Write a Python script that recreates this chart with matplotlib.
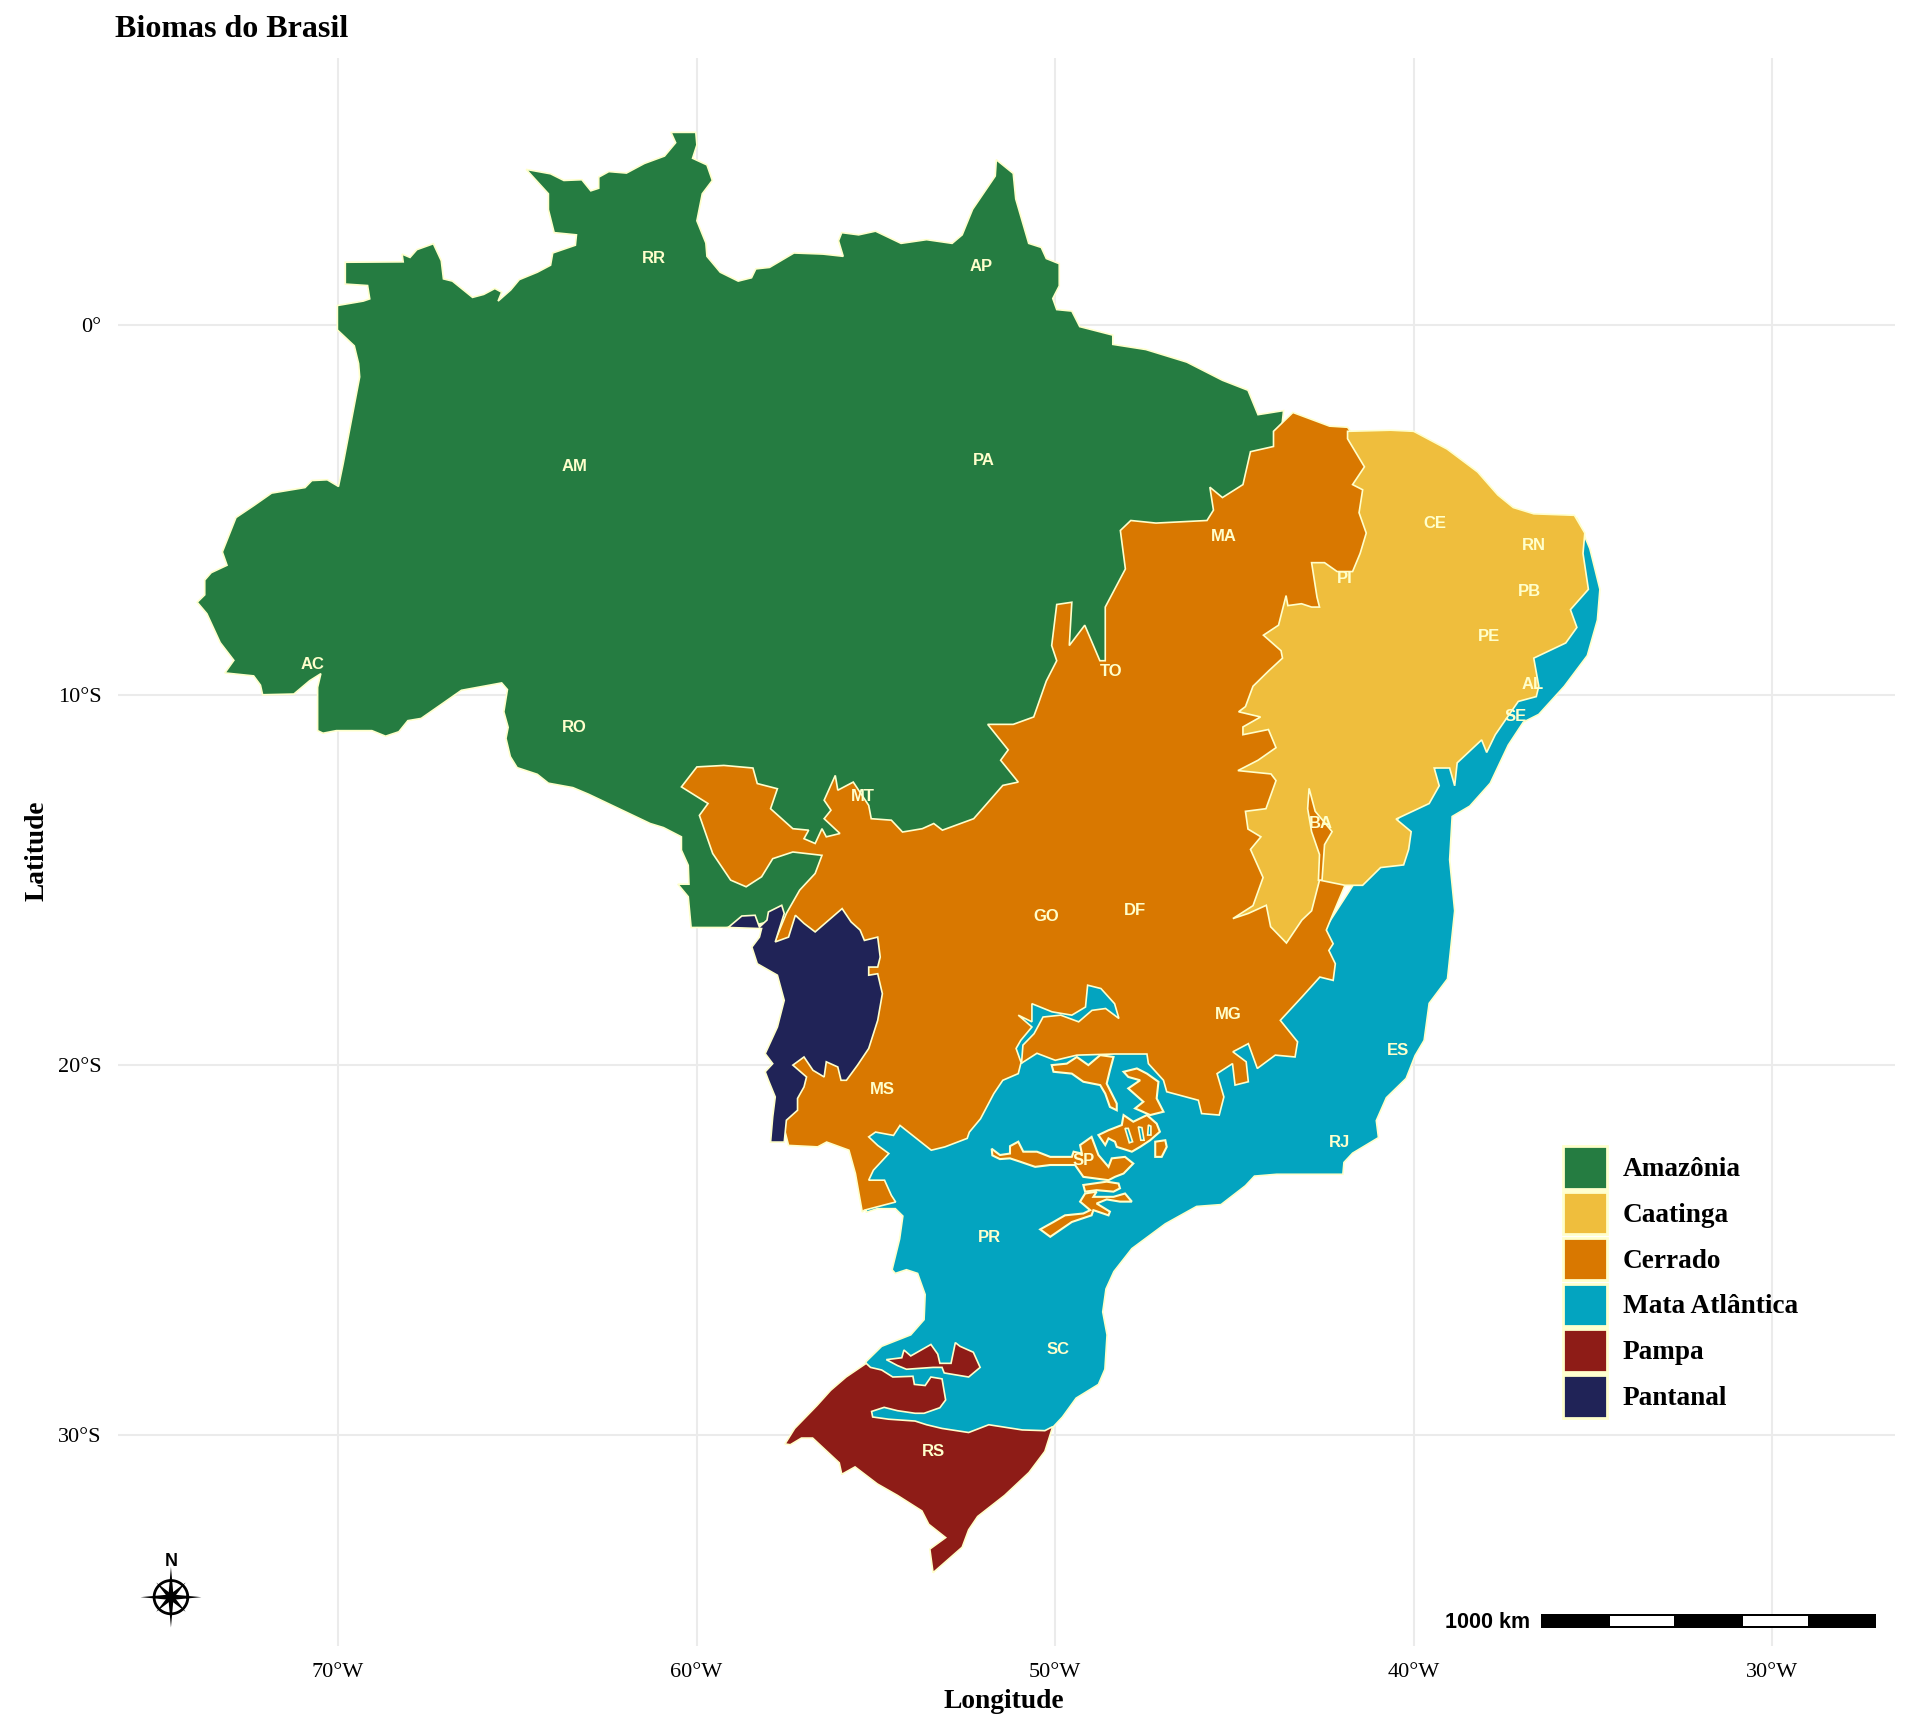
import numpy as np
import matplotlib
matplotlib.use("Agg")
import matplotlib.pyplot as plt
from matplotlib.patches import Patch, Rectangle

SERIF = "Liberation Serif"
SANS = "Liberation Sans"
EDGE = "#FFFFCC"

# limites do mapa
LON_MIN, LON_MAX = -76.14, -26.57
LAT_MIN, LAT_MAX = -35.71, 7.21
# ajuste fino da leitura das longitudes
LON_FIX = 1.0028

lon_ticks = [-70, -60, -50, -40, -30]
lon_labels = ["70°W", "60°W", "50°W", "40°W", "30°W"]
lat_ticks = [0, -10, -20, -30]
lat_labels = ["0°", "10°S", "20°S", "30°S"]

biome_names = ["Amazônia", "Caatinga", "Cerrado", "Mata Atlântica", "Pampa", "Pantanal"]
biome_colors = ["#257C41", "#EFBE3D", "#D97800", "#03A4C0", "#8E1C17", "#202357"]

# contornos (lon, lat)
amazonia = [
    (-69.80, 1.69), (-68.19, 1.70), (-68.22, 1.91), (-68.00, 1.82), (-67.81, 2.03), (-67.35, 2.19),
    (-67.13, 1.73), (-67.07, 1.24), (-66.82, 1.18), (-66.26, 0.74), (-65.95, 0.82), (-65.64, 0.98),
    (-65.45, 0.88), (-65.55, 0.64), (-65.20, 0.94), (-64.96, 1.22), (-64.46, 1.42), (-64.09, 1.61),
    (-64.03, 1.94), (-63.40, 2.15), (-63.37, 2.43), (-63.99, 2.49), (-64.15, 3.11), (-64.15, 3.54),
    (-64.77, 4.20), (-64.09, 4.08), (-63.72, 3.90), (-63.22, 3.92), (-62.97, 3.62), (-62.75, 3.69),
    (-62.75, 3.99), (-62.47, 4.14), (-61.98, 4.10), (-61.48, 4.36), (-60.92, 4.56), (-60.61, 4.92),
    (-60.74, 5.20), (-60.05, 5.20), (-60.02, 4.86), (-60.14, 4.50), (-59.74, 4.32), (-59.59, 3.90),
    (-59.87, 3.54), (-60.02, 2.81), (-59.77, 2.21), (-59.74, 1.85), (-59.37, 1.42), (-58.87, 1.18),
    (-58.50, 1.27), (-58.38, 1.51), (-58.00, 1.55), (-57.32, 1.94), (-56.51, 1.91), (-55.95, 1.85),
    (-56.08, 2.27), (-55.99, 2.49), (-55.52, 2.43), (-55.05, 2.53), (-54.34, 2.20), (-53.63, 2.30),
    (-52.92, 2.20), (-52.64, 2.43), (-52.35, 3.12), (-51.72, 4.02), (-51.69, 4.46), (-51.22, 4.09),
    (-51.15, 3.40), (-50.79, 2.20), (-50.44, 2.09), (-50.30, 1.79), (-49.94, 1.65), (-49.94, 1.05),
    (-50.12, 0.71), (-50.01, 0.41), (-49.59, 0.37), (-49.37, -0.05), (-48.45, -0.28), (-48.45, -0.53),
    (-47.53, -0.67), (-46.39, -1.01), (-45.40, -1.50), (-44.69, -1.77), (-44.41, -2.43), (-43.70, -2.32),
    (-44.00, -5.00), (-46.00, -7.00), (-50.00, -11.50), (-51.00, -13.00), (-53.00, -14.20), (-55.00, -14.50),
    (-56.60, -15.20), (-57.30, -16.00), (-57.70, -16.40), (-58.09, -16.15), (-58.30, -16.20), (-59.21, -16.29),
    (-60.18, -16.29), (-60.26, -15.46), (-60.55, -15.12), (-60.24, -15.12), (-60.26, -14.61), (-60.45, -14.20),
    (-60.45, -13.84), (-60.95, -13.59), (-61.32, -13.48), (-63.03, -12.69), (-63.47, -12.51), (-64.15, -12.39),
    (-64.46, -12.15), (-65.02, -11.97), (-65.21, -11.67), (-65.33, -11.18), (-65.27, -10.88), (-65.39, -10.46),
    (-65.29, -9.86), (-65.45, -9.68), (-66.57, -9.88), (-67.07, -10.22), (-67.69, -10.64), (-68.06, -10.70),
    (-68.31, -11.00), (-68.68, -11.12), (-69.06, -10.97), (-70.05, -10.97), (-70.42, -11.04), (-70.57, -10.97),
    (-70.57, -9.80), (-70.48, -9.43), (-70.79, -9.62), (-71.23, -9.98), (-72.10, -10.00), (-72.16, -9.74),
    (-72.35, -9.49), (-73.15, -9.41), (-72.90, -9.07), (-73.28, -8.59), (-73.65, -7.81), (-73.92, -7.50),
    (-73.71, -7.30), (-73.71, -6.90), (-73.53, -6.70), (-73.09, -6.50), (-73.22, -6.14), (-72.84, -5.21),
    (-72.35, -4.89), (-71.85, -4.55), (-70.92, -4.40), (-70.73, -4.21), (-70.30, -4.19), (-69.99, -4.37),
    (-69.86, -3.76), (-69.40, -1.41), (-69.43, -1.05), (-69.55, -0.57), (-70.02, -0.14), (-70.02, 0.52),
    (-69.30, 0.64), (-69.12, 0.70), (-69.18, 1.06), (-69.80, 1.10),
]

mata_atlantica = [
    (-35.54, -5.22), (-35.18, -6.05), (-34.90, -7.15), (-34.97, -7.98), (-35.25, -8.94), (-35.89, -9.77),
    (-36.60, -10.53), (-37.03, -10.74), (-37.45, -11.36), (-37.95, -12.39), (-38.52, -13.01), (-39.01, -13.29),
    (-39.08, -14.46), (-38.94, -15.84), (-39.14, -17.68), (-39.65, -18.34), (-39.79, -19.34), (-40.04, -19.75),
    (-40.29, -20.37), (-40.84, -20.89), (-41.12, -21.51), (-41.06, -21.97), (-41.78, -22.39), (-42.02, -22.64),
    (-42.05, -22.96), (-43.02, -22.96), (-43.89, -22.96), (-44.51, -23.01), (-44.76, -23.27), (-45.44, -23.78),
    (-46.12, -23.83), (-46.99, -24.30), (-47.92, -24.97), (-48.42, -25.59), (-48.64, -26.06), (-48.73, -26.68),
    (-48.61, -27.30), (-48.67, -28.23), (-48.85, -28.64), (-49.47, -29.01), (-49.85, -29.52), (-50.10, -29.78),
    (-50.34, -30.20), (-55.50, -30.20), (-55.40, -28.30), (-55.31, -28.02), (-54.88, -27.61), (-54.07, -27.30),
    (-53.70, -26.89), (-53.67, -26.21), (-53.88, -25.64), (-54.19, -25.54), (-54.50, -25.64), (-54.59, -25.54),
    (-54.38, -24.71), (-54.29, -24.09), (-54.50, -23.89), (-55.00, -23.89), (-55.31, -23.99), (-55.30, -23.50),
    (-55.40, -22.50), (-55.40, -21.90), (-54.50, -21.30), (-50.00, -19.00), (-46.00, -19.00), (-43.00, -17.00),
    (-41.00, -14.00), (-38.00, -10.00), (-36.00, -6.00),
]

cerrado = [
    (-43.44, -2.37), (-42.42, -2.74), (-41.92, -2.77), (-41.00, -4.00), (-41.00, -12.00), (-42.50, -14.80),
    (-41.99, -15.15), (-42.32, -15.91), (-42.51, -16.36), (-42.32, -16.73), (-42.44, -16.91), (-42.26, -17.27),
    (-42.32, -17.72), (-42.69, -17.63), (-43.19, -18.17), (-43.79, -18.80), (-43.31, -19.38), (-43.38, -19.79),
    (-43.93, -19.74), (-44.43, -20.10), (-44.68, -19.43), (-45.11, -19.65), (-44.74, -19.92), (-44.68, -20.46),
    (-45.05, -20.55), (-45.12, -19.97), (-45.55, -20.24), (-45.36, -20.87), (-45.49, -21.36), (-45.98, -21.32),
    (-46.07, -20.96), (-46.95, -20.73), (-47.04, -20.42), (-47.46, -19.97), (-47.50, -19.71), (-48.39, -19.71),
    (-49.45, -19.74), (-50.05, -19.88), (-50.56, -19.69), (-51.01, -19.97), (-51.08, -20.24), (-51.51, -20.42),
    (-51.76, -20.78), (-52.13, -21.46), (-52.44, -21.82), (-52.50, -21.99), (-53.12, -22.22), (-53.50, -22.31),
    (-54.37, -21.64), (-54.55, -21.91), (-55.05, -21.82), (-55.24, -21.95), (-54.99, -22.18), (-54.68, -22.40),
    (-55.11, -22.85), (-55.24, -23.12), (-54.80, -23.12), (-54.61, -23.53), (-54.49, -23.71), (-55.36, -23.93),
    (-55.42, -23.98), (-55.61, -22.94), (-55.79, -22.31), (-56.41, -22.09), (-56.66, -22.22), (-57.47, -22.18),
    (-57.70, -21.30), (-57.50, -19.00), (-57.84, -16.64), (-57.53, -15.91), (-57.16, -15.28), (-56.73, -14.83),
    (-56.54, -14.34), (-57.35, -14.25), (-57.91, -14.43), (-58.22, -14.92), (-58.65, -15.19), (-59.08, -15.01),
    (-59.58, -14.29), (-59.95, -13.26), (-59.71, -12.94), (-60.45, -12.49), (-60.02, -11.95), (-59.27, -11.91),
    (-58.46, -11.98), (-58.34, -12.40), (-57.78, -12.54), (-57.97, -13.08), (-57.35, -13.62), (-56.91, -13.66),
    (-57.04, -13.89), (-56.73, -14.02), (-56.54, -13.62), (-56.42, -13.84), (-56.04, -13.75), (-56.48, -13.35),
    (-56.29, -13.12), (-56.48, -12.85), (-56.17, -12.18), (-56.10, -12.58), (-55.67, -12.36), (-55.24, -12.99),
    (-55.17, -13.35), (-54.61, -13.39), (-54.30, -13.71), (-53.75, -13.62), (-53.43, -13.48), (-53.19, -13.66),
    (-52.32, -13.35), (-51.95, -12.94), (-51.51, -12.45), (-51.08, -12.36), (-51.57, -11.77), (-51.36, -11.49),
    (-51.93, -10.80), (-51.22, -10.80), (-50.65, -10.60), (-50.30, -9.63), (-50.01, -9.08), (-50.15, -8.67),
    (-50.01, -7.56), (-49.59, -7.50), (-49.66, -8.67), (-49.23, -8.12), (-48.81, -9.08), (-48.66, -9.08),
    (-48.66, -7.63), (-48.10, -6.60), (-48.24, -5.56), (-47.95, -5.29), (-47.25, -5.36), (-45.83, -5.29),
    (-45.65, -5.01), (-45.75, -4.39), (-45.40, -4.67), (-44.83, -4.32), (-44.62, -3.43), (-43.98, -3.29),
    (-43.98, -2.88),
]

caatinga = [
    (-41.92, -2.88), (-40.72, -2.85), (-40.08, -2.88), (-39.15, -3.36), (-38.30, -3.98), (-37.74, -4.60),
    (-37.31, -4.94), (-36.74, -5.11), (-35.61, -5.15), (-35.32, -5.63), (-35.37, -6.18), (-35.22, -7.15),
    (-35.72, -7.70), (-35.54, -8.18), (-35.85, -8.60), (-36.74, -9.01), (-36.60, -9.77), (-36.67, -10.05),
    (-37.17, -10.18), (-37.52, -10.67), (-37.81, -11.08), (-38.05, -11.56), (-38.19, -11.22), (-38.87, -11.84),
    (-38.94, -12.46), (-39.08, -11.98), (-39.51, -11.98), (-39.37, -12.46), (-39.65, -12.94), (-40.57, -13.36),
    (-40.15, -13.70), (-40.22, -14.18), (-40.36, -14.60), (-41.00, -14.67), (-41.50, -15.15), (-41.99, -15.15),
    (-42.70, -15.01), (-42.92, -15.84), (-43.19, -16.09), (-43.62, -16.71), (-44.06, -16.27), (-44.18, -15.69),
    (-44.68, -15.91), (-45.11, -16.05), (-44.55, -15.70), (-44.27, -14.94), (-44.62, -14.18), (-44.33, -13.84),
    (-44.69, -13.63), (-44.76, -13.15), (-44.19, -13.08), (-43.91, -12.32), (-44.05, -12.14), (-44.97, -12.05),
    (-44.41, -11.77), (-43.91, -11.43), (-44.12, -10.94), (-44.83, -11.08), (-44.83, -10.87), (-44.34, -10.60),
    (-44.95, -10.46), (-44.76, -10.32), (-44.55, -9.77), (-44.12, -9.36), (-43.73, -9.01), (-43.77, -8.81),
    (-44.26, -8.39), (-43.84, -8.12), (-43.63, -7.32), (-43.58, -7.59), (-43.20, -7.54), (-42.92, -7.63),
    (-42.70, -7.63), (-42.77, -7.36), (-42.92, -6.43), (-42.56, -6.43), (-42.21, -6.67), (-41.78, -6.67),
    (-41.57, -6.18), (-41.40, -5.63), (-41.60, -5.08), (-41.50, -4.46), (-41.78, -4.32), (-41.45, -3.84),
    (-41.92, -3.08),
]

pampa = [
    (-57.57, -30.25), (-57.30, -29.83), (-56.68, -29.21), (-56.30, -28.80), (-55.87, -28.44), (-55.31, -28.07),
    (-55.19, -28.18), (-54.88, -28.25), (-54.57, -28.44), (-54.01, -28.42), (-53.97, -28.64), (-53.67, -28.67),
    (-53.51, -28.44), (-53.20, -28.49), (-53.10, -29.06), (-53.26, -29.27), (-53.70, -29.42), (-53.95, -29.42),
    (-54.44, -29.35), (-54.81, -29.26), (-55.16, -29.37), (-55.13, -29.52), (-54.69, -29.58), (-53.95, -29.63),
    (-53.63, -29.73), (-53.20, -29.83), (-52.46, -29.94), (-51.90, -29.73), (-50.97, -29.87), (-50.34, -29.89),
    (-50.12, -29.78), (-50.34, -30.45), (-50.78, -31.02), (-51.46, -31.64), (-52.21, -32.21), (-52.46, -32.57),
    (-52.64, -33.04), (-53.45, -33.73), (-53.54, -33.09), (-53.10, -32.78), (-53.57, -32.42), (-53.76, -32.06),
    (-54.44, -31.64), (-55.00, -31.33), (-55.62, -30.87), (-55.99, -31.07), (-56.06, -30.76), (-56.80, -30.09),
    (-57.11, -30.09), (-57.42, -30.27),
]

pampa_norte = [
    (-54.75, -27.97), (-54.32, -27.92), (-54.26, -27.71), (-54.07, -27.87), (-53.51, -27.56), (-53.32, -27.82),
    (-53.26, -28.07), (-52.95, -28.07), (-52.83, -27.51), (-52.70, -27.61), (-52.33, -27.77), (-52.14, -28.18),
    (-52.46, -28.44), (-53.14, -28.33), (-53.20, -28.18), (-53.45, -28.18), (-54.19, -28.23), (-54.44, -28.13),
]

pantanal = [
    (-58.03, -15.87), (-57.66, -15.69), (-57.59, -15.91), (-57.84, -16.68), (-57.47, -16.55), (-57.28, -15.96),
    (-57.04, -16.18), (-56.73, -16.41), (-56.35, -16.09), (-55.98, -15.78), (-55.73, -16.14), (-55.48, -16.36),
    (-55.36, -16.64), (-54.99, -16.55), (-54.92, -17.09), (-54.99, -17.36), (-55.24, -17.36), (-55.24, -17.58),
    (-54.99, -17.54), (-54.86, -18.08), (-54.99, -18.80), (-55.24, -19.56), (-55.55, -20.01), (-55.86, -20.42),
    (-56.01, -20.42), (-56.10, -20.06), (-56.42, -19.92), (-56.48, -20.33), (-56.79, -20.15), (-57.04, -19.79),
    (-57.35, -20.01), (-56.97, -20.33), (-57.04, -20.60), (-57.22, -20.91), (-57.22, -21.23), (-57.53, -21.50),
    (-57.59, -22.09), (-57.97, -22.09), (-57.91, -21.41), (-57.84, -20.87), (-58.03, -20.42), (-58.12, -20.19),
    (-57.91, -19.97), (-58.12, -19.70), (-57.78, -18.98), (-57.59, -18.26), (-57.78, -17.58), (-58.34, -17.27),
    (-58.49, -16.82), (-58.28, -16.55), (-58.22, -16.32), (-59.15, -16.29), (-58.77, -15.98), (-58.40, -15.96),
    (-58.28, -16.28), (-58.07, -16.09),
]

mata_tendril = [
    (-50.99, -19.97), (-51.14, -19.56), (-51.01, -19.34), (-50.70, -18.98), (-51.08, -18.66), (-50.70, -18.84),
    (-50.70, -18.35), (-50.14, -18.57), (-49.59, -18.66), (-49.21, -18.44), (-49.15, -17.85), (-48.78, -17.94),
    (-48.40, -18.35), (-48.28, -18.75), (-48.65, -18.48), (-49.03, -18.53), (-49.40, -18.84), (-49.90, -18.66),
    (-50.39, -18.71), (-50.64, -19.16), (-50.95, -19.47),
]

# manchas de cerrado dentro da mata atlantica (SP)
sp_faixa = [
    (-51.82, -22.27), (-51.59, -22.44), (-51.31, -22.40), (-51.31, -22.20), (-51.08, -22.08), (-50.94, -22.35),
    (-50.56, -22.35), (-50.19, -22.49), (-49.59, -22.49), (-49.54, -22.35), (-49.31, -22.40), (-49.36, -22.17),
    (-49.04, -21.95), (-48.85, -22.44), (-48.57, -22.76), (-48.48, -22.53), (-48.11, -22.49), (-47.88, -22.67),
    (-48.15, -22.94), (-48.39, -23.03), (-48.57, -23.12), (-49.27, -23.03), (-49.50, -22.71), (-50.19, -22.71),
    (-50.61, -22.76), (-51.03, -22.62), (-51.31, -22.53), (-51.59, -22.55), (-51.80, -22.45),
]
sp_lente = [
    (-49.27, -23.25), (-48.62, -23.16), (-48.29, -23.21), (-48.25, -23.34), (-48.43, -23.43), (-48.90, -23.39),
    (-49.22, -23.43),
]
sp_sul = [
    (-49.22, -23.48), (-48.90, -23.43), (-48.99, -23.57), (-48.43, -23.57), (-48.11, -23.48), (-47.92, -23.70),
    (-48.25, -23.70), (-48.62, -23.64), (-48.90, -23.75), (-48.53, -23.97), (-48.57, -24.07), (-48.99, -23.93),
    (-49.04, -24.07), (-49.59, -24.25), (-50.19, -24.65), (-50.47, -24.45), (-50.10, -24.25), (-49.78, -24.07),
    (-49.27, -24.02), (-49.08, -23.93), (-49.36, -23.70),
]
sp_norte = [
    (-50.15, -20.01), (-49.73, -19.97), (-49.45, -19.79), (-49.13, -20.01), (-48.80, -19.74), (-48.43, -19.79),
    (-48.53, -20.15), (-48.62, -20.51), (-48.34, -21.05), (-48.34, -21.23), (-48.53, -21.14), (-48.66, -20.78),
    (-48.80, -20.55), (-49.27, -20.46), (-49.59, -20.24), (-50.10, -20.19),
]
sp_nordeste = [
    (-48.15, -20.19), (-47.78, -20.10), (-47.50, -20.24), (-47.18, -20.46), (-47.23, -20.91), (-47.04, -21.27),
    (-47.41, -21.36), (-47.83, -21.18), (-47.60, -21.00), (-48.02, -20.64), (-47.69, -20.42), (-48.02, -20.33),
]
sp_centro = [
    (-48.85, -21.90), (-48.57, -21.77), (-48.20, -21.63), (-48.15, -21.36), (-47.88, -21.54), (-47.50, -21.36),
    (-47.23, -21.59), (-47.14, -21.81), (-47.41, -22.04), (-47.69, -22.22), (-47.92, -22.35), (-48.34, -22.22),
    (-48.39, -22.08), (-48.57, -21.99), (-48.66, -22.17),
]
sp_leste = [(-47.27, -22.08), (-46.99, -22.04), (-46.95, -22.22), (-47.09, -22.49), (-47.27, -22.49)]
sp_frestas = [
    [(-48.11, -21.72), (-48.02, -21.72), (-47.90, -22.08), (-47.99, -22.11)],
    [(-47.74, -21.68), (-47.64, -21.70), (-47.58, -22.04), (-47.67, -22.04)],
    [(-47.46, -21.63), (-47.39, -21.66), (-47.39, -21.90), (-47.48, -21.90)],
]
cerrado_ba = [
    (-42.99, -12.53), (-42.82, -13.15), (-42.35, -13.70), (-42.56, -14.05), (-42.63, -15.01), (-42.73, -15.01),
    (-42.70, -14.32), (-42.92, -13.70), (-43.03, -13.08),
]

uf_names = ["RR", "AM", "AC", "RO", "AP", "PA", "MA", "CE", "RN", "PB", "PE", "PI", "AL", "SE", "TO", "BA",
            "MT", "GO", "DF", "MG", "MS", "SP", "RJ", "ES", "PR", "SC", "RS"]
uf_lon = [-61.21, -63.43, -70.72, -63.44, -52.10, -52.03, -45.36, -39.48, -36.74, -36.87, -37.99, -42.01,
          -36.78, -37.25, -48.49, -42.65, -55.40, -50.31, -47.83, -45.25, -54.85, -49.27, -42.15, -40.51,
          -51.88, -49.97, -53.44]
uf_lat = [1.80, -3.82, -9.18, -10.88, 1.58, -3.68, -5.73, -5.37, -5.96, -7.21, -8.42, -6.87,
          -9.73, -10.58, -9.37, -13.49, -12.74, -15.99, -15.83, -18.64, -20.66, -22.60, -22.11, -19.62,
          -24.66, -27.69, -30.44]

# escala grafica e rosa dos ventos
scale_edges = [-36.54, -34.62, -32.84, -30.92, -29.11, -27.22]
scale_lat = -35.04
rose_lon, rose_lat = -74.65, -34.39


def fix_lon(lon):
    return -70 + (np.asarray(lon) + 70) * LON_FIX


def draw_poly(ax, pts, color, lw=1.2):
    arr = np.array(pts)
    ax.fill(fix_lon(arr[:, 0]), arr[:, 1], facecolor=color, edgecolor=EDGE, linewidth=lw, zorder=2, joinstyle="miter")


def draw_rose(ax, lon0, lat0):
    rx, ry = 0.85, 0.82
    theta = np.linspace(0, 2 * np.pi, 80)
    ax.plot(lon0 + 0.47 * np.cos(theta), lat0 + 0.45 * np.sin(theta), color="black", lw=2.0, zorder=3)
    w = 0.075
    for k in range(4):
        a = k * np.pi / 2
        ca, sa = np.cos(a), np.sin(a)
        ax.fill([lon0 + rx * ca, lon0 - w * sa, lon0 + w * sa], [lat0 + ry * sa, lat0 + w * ca, lat0 - w * ca],
                color="black", lw=0, zorder=4)
        a2 = a + np.pi / 4
        ca, sa = np.cos(a2), np.sin(a2)
        ax.fill([lon0 + 0.58 * ca, lon0 - w * sa, lon0 + w * sa], [lat0 + 0.56 * sa, lat0 + w * ca, lat0 - w * ca],
                color="black", lw=0, zorder=4)
    ax.text(lon0, lat0 + 0.97, "N", family=SANS, fontweight="bold", fontsize=13, ha="center", va="center")


def draw_scale(ax):
    h = 0.19
    edges = fix_lon(scale_edges)
    ax.add_patch(Rectangle((edges[0], scale_lat - h), edges[-1] - edges[0], 2 * h,
                           facecolor="black", edgecolor="none", zorder=3))
    for i in (1, 3):
        ax.add_patch(Rectangle((edges[i], scale_lat - h * 0.72), edges[i + 1] - edges[i], 1.44 * h,
                               facecolor="white", edgecolor="none", zorder=4))
    ax.text(edges[0] - 0.3, scale_lat - 0.03, "1000 km", family=SANS, fontweight="bold", fontsize=15.5,
            ha="right", va="center")


fig = plt.figure(figsize=(19.2, 17.28), dpi=100, facecolor="white")
ax = fig.add_axes([118 / 1920, 1 - 1646 / 1728, (1895 - 118) / 1920, (1646 - 58) / 1728])
ax.set_xlim(LON_MIN, LON_MAX)
ax.set_ylim(LAT_MIN, LAT_MAX)
for side in ax.spines.values():
    side.set_visible(False)

ax.set_xticks(lon_ticks)
ax.set_xticklabels(lon_labels, family=SERIF, fontsize=16)
ax.set_yticks(lat_ticks)
ax.set_yticklabels(lat_labels, family=SERIF, fontsize=16)
ax.tick_params(length=0, pad=12)
ax.grid(True, color="#EBEBEB", lw=1.5, zorder=0)
ax.set_axisbelow(True)

draw_poly(ax, amazonia, biome_colors[0])
draw_poly(ax, mata_atlantica, biome_colors[3])
draw_poly(ax, cerrado, biome_colors[2])
for patch_pts in (sp_faixa, sp_lente, sp_sul, sp_norte, sp_nordeste, sp_centro, sp_leste):
    draw_poly(ax, patch_pts, biome_colors[2], lw=1.5)
for patch_pts in sp_frestas:
    draw_poly(ax, patch_pts, biome_colors[3], lw=1.2)
draw_poly(ax, mata_tendril, biome_colors[3])
draw_poly(ax, caatinga, biome_colors[1])
draw_poly(ax, cerrado_ba, biome_colors[2])
draw_poly(ax, pampa, biome_colors[4])
draw_poly(ax, pampa_norte, biome_colors[4])
draw_poly(ax, pantanal, biome_colors[5])

for name, x, y in zip(uf_names, fix_lon(uf_lon), uf_lat):
    ax.text(x, y, name, family=SANS, fontweight="bold", fontsize=12, color=EDGE, ha="center", va="center", zorder=5)

draw_rose(ax, float(fix_lon(rose_lon)), rose_lat)
draw_scale(ax)

handles = [Patch(facecolor=c, edgecolor=EDGE, linewidth=2.0, label=n) for c, n in zip(biome_colors, biome_names)]
leg = ax.legend(handles=handles, loc="upper left", bbox_to_anchor=((1563 - 118) / (1895 - 118), 1 - (1146 - 58) / (1646 - 58)),
                frameon=False, prop={"family": SERIF, "weight": "bold", "size": 19.6},
                handlelength=1.61, handleheight=2.03, labelspacing=0.12, handletextpad=0.58,
                borderpad=0, borderaxespad=0)

fig.text(115 / 1920, 1 - 29.5 / 1728, "Biomas do Brasil", family=SERIF, fontweight="bold", fontsize=23, ha="left", va="center")
fig.text(1004 / 1920, 1 - 1701.5 / 1728, "Longitude", family=SERIF, fontweight="bold", fontsize=19.8, ha="center", va="center")
fig.text(37.5 / 1920, 1 - 851 / 1728, "Latitude", family=SERIF, fontweight="bold", fontsize=19.7, rotation=90, ha="center", va="center")

fig.savefig("out.png", dpi=100)
